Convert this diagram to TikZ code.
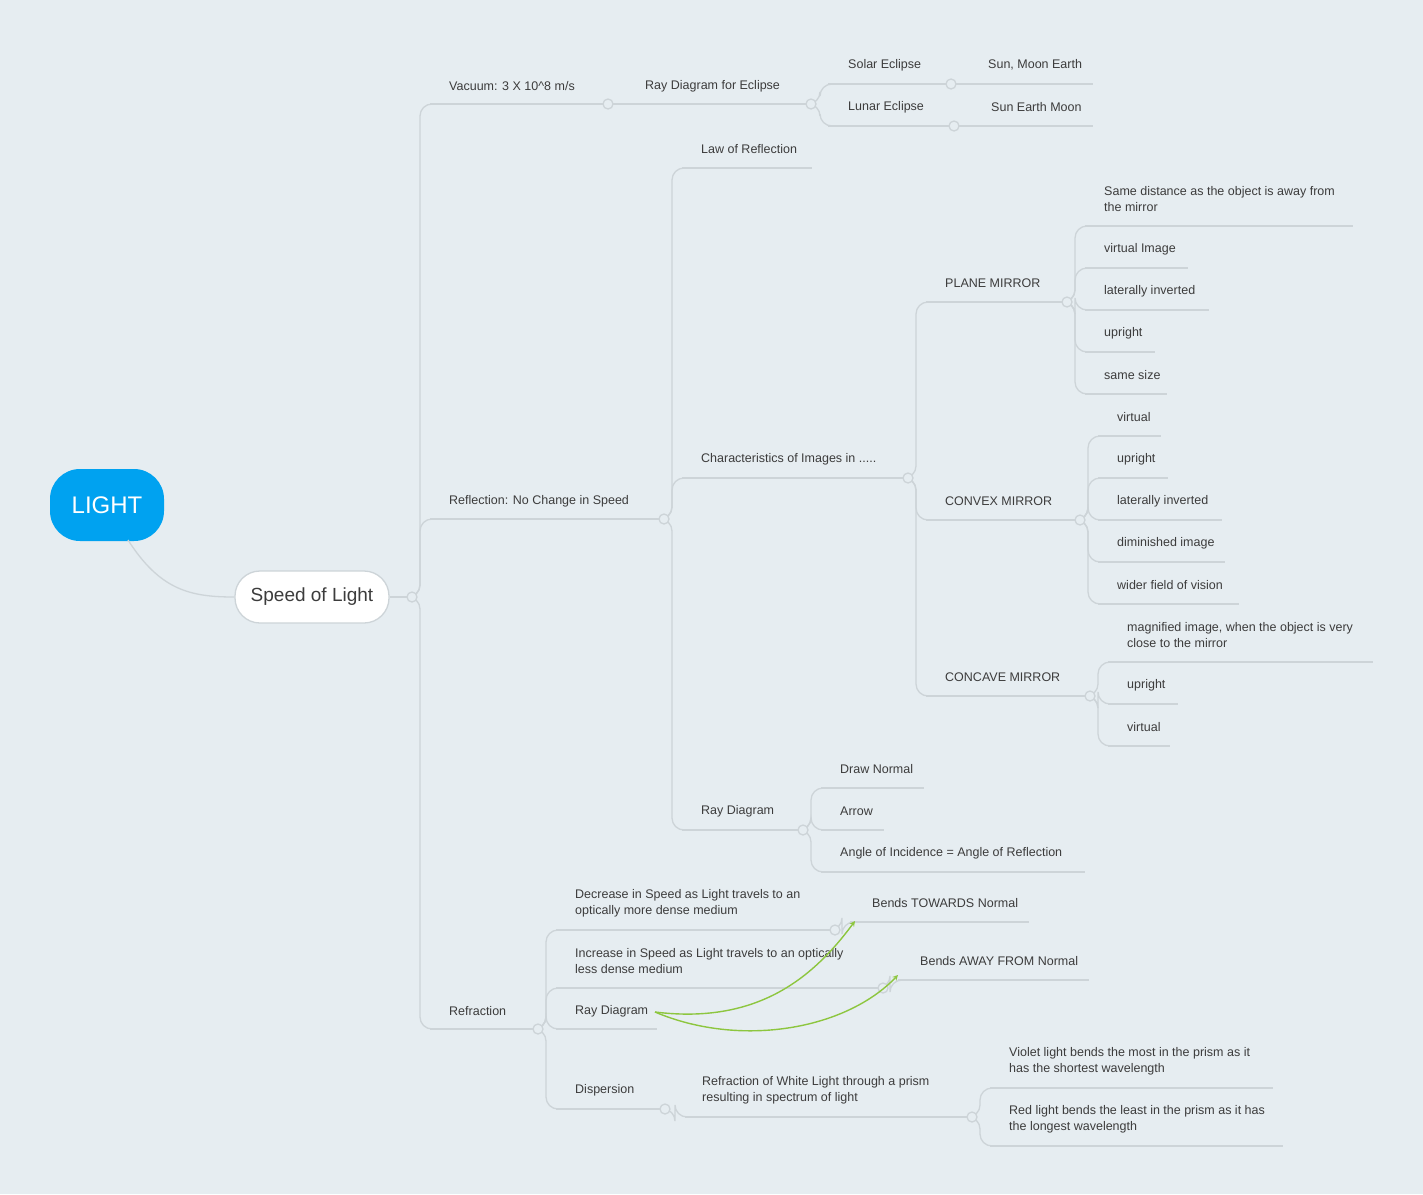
\documentclass[tikz,border=0pt]{standalone}
\usepackage{fontspec}
\setmainfont{Liberation Sans}
\usetikzlibrary{calc}
\definecolor{bg}{RGB}{230,237,241}
\definecolor{lnc}{RGB}{205,212,216}
\definecolor{txc}{RGB}{60,60,60}
\definecolor{blu}{RGB}{0,162,240}
\definecolor{grn}{RGB}{141,198,63}
\tikzset{
 lbl/.style={anchor=west,inner sep=0pt,text=txc,font=\fontsize{12.5}{16}\selectfont,align=left},
 ln/.style={draw=lnc,line width=1.3pt},
 dotn/.style={circle,draw=lnc,fill=bg,line width=1.3pt,minimum size=10pt,inner sep=0pt},
 garrow/.style={draw=grn,line width=1.4pt,-stealth}
}
\newcommand\itm[7]{\node[lbl] (#1) at (#2,#3) {#4};
 \coordinate (#1-s) at (#6,#5); \coordinate (#1-e) at (#7,#5);
 \draw[ln] (#1-s)--(#1-e);}
\newcommand\lnk[3]{\draw[ln,rounded corners=12pt] let \p1=(#1-e),\p2=(#3-s) in (\p1) -- (#2,\y1) -- (#2,\y2) -- (\p2);}
\newcommand\dt[1]{\node[dotn] at (#1-e) {};}
\begin{document}
\begin{tikzpicture}[x=1pt,y=-1pt]
\fill[bg] (0,0) rectangle (1423,1194);
\useasboundingbox (0,0) rectangle (1423,1194);
% root
\node[fill=blu,rounded corners=30pt,minimum width=114pt,minimum height=72pt,text=white,font=\fontsize{24}{28}\selectfont] (light) at (107,505) {LIGHT};
\node[draw=lnc,fill=white,line width=1.3pt,rounded corners=25pt,minimum width=154pt,minimum height=52pt,text=txc,font=\fontsize{19}{22}\selectfont] (sol) at (312,597) {Speed of Light};
\coordinate (sol-e) at (412,597);
\draw[ln] (128,540) .. controls (160,590) and (190,597) .. (sol.west);
\draw[ln] (sol.east) -- (sol-e);
% level 1
\itm{vac}{449}{86}{Vacuum: 3 X 10\^{}8 m/s}{104}{430}{608}
\itm{refl}{449}{501}{Reflection: No Change in Speed}{519}{430}{664}
\itm{refr}{449}{1011}{Refraction}{1029}{430}{538}
\lnk{sol}{420}{vac}\lnk{sol}{420}{refl}\lnk{sol}{420}{refr}
% eclipse
\itm{rde}{645}{86}{Ray Diagram for Eclipse}{104}{608}{811}
\itm{sol1}{848}{65}{Solar Eclipse}{84}{828}{951}
\itm{lun}{848}{107}{Lunar Eclipse}{126}{828}{954}
\lnk{rde}{820}{sol1}\lnk{rde}{820}{lun}
\itm{sme}{988}{65}{Sun, Moon Earth}{84}{951}{1093}
\itm{sem}{991}{107}{Sun Earth Moon}{126}{954}{1093}
% reflection
\itm{law}{701}{149}{Law of Reflection}{168}{682}{812}
\itm{chr}{701}{459}{Characteristics of Images in .....}{478}{682}{908}
\itm{rdr}{701}{811}{Ray Diagram}{830}{682}{803}
\lnk{refl}{672}{law}\lnk{refl}{672}{chr}\lnk{refl}{672}{rdr}
\itm{pm}{945}{283}{PLANE MIRROR}{302}{926}{1067}
\itm{cvx}{945}{501}{CONVEX MIRROR}{520}{926}{1080}
\itm{ccv}{945}{677}{CONCAVE MIRROR}{696}{926}{1090}
\lnk{chr}{916}{pm}\lnk{chr}{916}{cvx}\lnk{chr}{916}{ccv}
\itm{p1}{1104}{199}{Same distance as the object is away from\\the mirror}{226}{1085}{1353}
\itm{p2}{1104}{249}{virtual Image}{268}{1085}{1188}
\itm{p3}{1104}{291}{laterally inverted}{310}{1085}{1209}
\itm{p4}{1104}{333}{upright}{352}{1085}{1155}
\itm{p5}{1104}{375}{same size}{394}{1085}{1167}
\foreach \c in {p1,p2,p3,p4,p5}{\lnk{pm}{1075}{\c}}
\itm{c1}{1117}{417}{virtual}{436}{1098}{1161}
\itm{c2}{1117}{459}{upright}{478}{1098}{1168}
\itm{c3}{1117}{501}{laterally inverted}{520}{1098}{1222}
\itm{c4}{1117}{543}{diminished image}{562}{1098}{1225}
\itm{c5}{1117}{585}{wider field of vision}{604}{1098}{1239}
\foreach \c in {c1,c2,c3,c4,c5}{\lnk{cvx}{1088}{\c}}
\itm{k1}{1127}{635}{magnified image, when the object is very\\close to the mirror}{662}{1108}{1373}
\itm{k2}{1127}{685}{upright}{704}{1108}{1178}
\itm{k3}{1127}{727}{virtual}{746}{1108}{1170}
\foreach \c in {k1,k2,k3}{\lnk{ccv}{1098}{\c}}
\itm{r1}{840}{769}{Draw Normal}{788}{821}{924}
\itm{r2}{840}{811}{Arrow}{830}{821}{884}
\itm{r3}{840}{853}{Angle of Incidence = Angle of Reflection}{872}{821}{1085}
\foreach \c in {r1,r2,r3}{\lnk{rdr}{811}{\c}}
% refraction
\itm{dec}{575}{903}{Decrease in Speed as Light travels to an\\optically more dense medium}{930}{556}{835}
\itm{inc}{575}{961}{Increase in Speed as Light travels to an optically\\less dense medium}{988}{556}{883}
\itm{rdf}{575}{1011}{Ray Diagram}{1029}{556}{657}
\itm{dis}{575}{1090}{Dispersion}{1109}{556}{665}
\foreach \c in {dec,inc,rdf,dis}{\lnk{refr}{546}{\c}}
\itm{bt}{872}{903}{Bends TOWARDS Normal}{922}{850}{1029}
\itm{ba}{920}{961}{Bends AWAY FROM Normal}{980}{898}{1089}
\lnk{dec}{842}{bt}\lnk{inc}{890}{ba}
\itm{rwl}{702}{1090}{Refraction of White Light through a prism\\resulting in spectrum of light}{1117}{685}{972}
\lnk{dis}{675}{rwl}
\itm{vl}{1009}{1061}{Violet light bends the most in the prism as it\\has the shortest wavelength}{1088}{990}{1273}
\itm{rl}{1009}{1119}{Red light bends the least in the prism as it has\\the longest wavelength}{1146}{990}{1283}
\lnk{rwl}{980}{vl}\lnk{rwl}{980}{rl}
% dots
\foreach \d in {sol,vac,refl,refr,rde,sol1,lun,chr,rdr,pm,cvx,ccv,dec,inc,dis,rwl}{\dt{\d}}
% green arrows
\coordinate (ga) at (655,1012);
\draw[garrow] (ga) .. controls (760,1025) and (815,975) .. (855,921);
\draw[garrow] (ga) .. controls (740,1048) and (845,1030) .. (898,975);
\end{tikzpicture}
\end{document}
